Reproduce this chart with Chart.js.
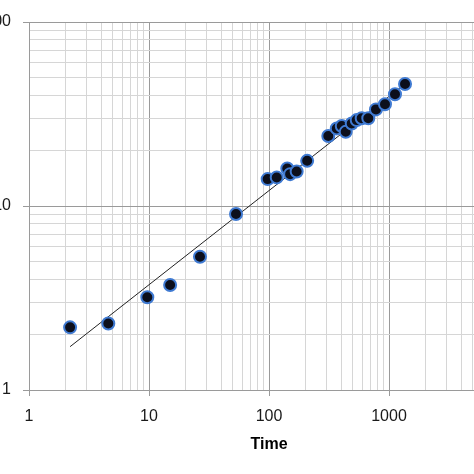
<!DOCTYPE html>
<html>
<head>
<meta charset="utf-8">
<script src="https://cdn.jsdelivr.net/npm/chart.js@4"></script>
<style>
html, body { margin: 0; padding: 0; background: #fff; overflow: hidden; width: 474px; height: 474px; }
#wrap { position: absolute; left: -16px; top: 0; width: 565px; height: 474px; }
</style>
</head>
<body>
<div id="wrap"><canvas id="chart" width="565" height="474"></canvas></div>
<script>
const timeVals = [2.2, 4.58, 9.68, 15.0, 26.6, 53.1, 97.5, 116, 142, 150, 170, 208,
                  312, 367, 404, 436, 489, 538, 592, 672, 779, 926, 1122, 1360];
const yVals = [2.19, 2.30, 3.19, 3.72, 5.30, 9.05, 14.0, 14.3, 16.0, 14.9, 15.4, 17.6,
               24.0, 26.4, 27.2, 25.3, 28.1, 29.3, 30.0, 30.0, 33.5, 35.7, 40.5, 46.0];

// power-law fit line end points
const fitTime = [2.2, 1360];
const fitVals = [1.72, 46.1];

// axis ranges
const xRange = [1, 10000];
const yRange = [1, 100];

const FONT = "'Liberation Sans', Arial, sans-serif";
const MAJOR = '#9a9a9a';
const MINOR = '#d6d6d6';

function isDecade(v) {
    const l = Math.log10(v);
    return Math.abs(l - Math.round(l)) < 1e-9;
}

// 1,2,...,9,10,20,... up to max
function logTicks(scale) {
    const t = [];
    for (let d = scale.min; d < scale.max; d *= 10) {
        for (let k = 1; k < 10; k++) t.push({ value: d * k });
    }
    t.push({ value: scale.max });
    scale.ticks = t;
}

const gridOpts = {
    color: ctx => (ctx.tick && isDecade(ctx.tick.value)) ? MAJOR : MINOR,
    tickColor: ctx => (ctx.tick && isDecade(ctx.tick.value)) ? MAJOR : 'rgba(0,0,0,0)',
    tickLength: 6,
    lineWidth: 1
};

new Chart(document.getElementById('chart').getContext('2d'), {
    data: {
        datasets: [
            {
                type: 'scatter',
                data: timeVals.map((t, i) => ({ x: t, y: yVals[i] })),
                backgroundColor: '#0c0f1c',
                borderColor: '#3f7ad2',
                borderWidth: 2,
                pointRadius: 6,
                pointHoverRadius: 6
            },
            {
                type: 'line',
                data: fitTime.map((t, i) => ({ x: t, y: fitVals[i] })),
                borderColor: '#222',
                borderWidth: 1,
                pointRadius: 0,
                fill: false
            }
        ]
    },
    options: {
        responsive: false,
        animation: false,
        layout: { padding: { left: 0, top: 22, right: 40, bottom: 0 } },
        plugins: { legend: { display: false }, tooltip: { enabled: false } },
        scales: {
            x: {
                type: 'logarithmic',
                min: xRange[0],
                max: xRange[1],
                afterBuildTicks: logTicks,
                afterFit: s => { s.height = 84; },
                grid: gridOpts,
                border: { color: MAJOR },
                ticks: {
                    autoSkip: false,
                    maxRotation: 0,
                    padding: 11,
                    color: '#1a1a1a',
                    font: { family: FONT, size: 16 },
                    callback: v => isDecade(v) ? String(Math.round(v)) : ''
                },
                title: {
                    display: true,
                    text: 'Time',
                    color: '#000',
                    font: { family: FONT, size: 16, weight: 'bold' },
                    padding: { top: 0, bottom: 20 }
                }
            },
            y: {
                type: 'logarithmic',
                min: yRange[0],
                max: yRange[1],
                afterBuildTicks: logTicks,
                afterFit: s => { s.width = 45; },
                grid: gridOpts,
                border: { color: MAJOR },
                ticks: {
                    autoSkip: false,
                    padding: 12,
                    color: '#1a1a1a',
                    font: { family: FONT, size: 16 },
                    callback: v => isDecade(v) ? String(Math.round(v)) : ''
                }
            }
        }
    }
});
</script>
</body>
</html>
